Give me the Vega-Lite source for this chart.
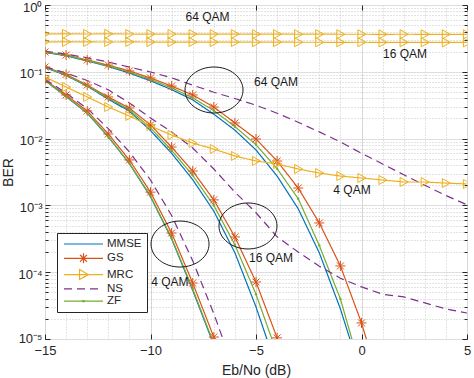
{
  "$schema": "https://vega.github.io/schema/vega-lite/v6.json",
  "width": 422,
  "height": 334,
  "autosize": {"type": "none"},
  "padding": {"left": 45, "top": 5, "right": 7, "bottom": 39},
  "background": "white",
  "config": {
    "view": {"stroke": "#262626", "strokeWidth": 1},
    "font": "Liberation Sans",
    "axis": {"labelFont": "Liberation Sans", "titleFont": "Liberation Sans", "labelColor": "#262626", "titleColor": "#262626", "titleFontWeight": "normal", "tickColor": "#262626"},
    "legend": {
      "orient": "none", "legendX": 12, "legendY": 228,
      "strokeColor": "#262626", "fillColor": "white", "padding": 5,
      "labelFont": "Liberation Sans", "labelFontSize": 11.5, "labelColor": "#262626",
      "symbolSize": 100, "symbolStrokeWidth": 1.2, "rowPadding": 0.3, "labelOffset": 17.5, "symbolOffset": 15.5
    }
  },
  "datasets": {
    "curves": [
      {"method":"GS","qam":"64","snr":-15,"ber":0.198},{"method":"GS","qam":"64","snr":-14,"ber":0.178},{"method":"GS","qam":"64","snr":-13,"ber":0.150},{"method":"GS","qam":"64","snr":-12,"ber":0.126},{"method":"GS","qam":"64","snr":-11,"ber":0.103},{"method":"GS","qam":"64","snr":-10,"ber":0.0808},{"method":"GS","qam":"64","snr":-9,"ber":0.0612},{"method":"GS","qam":"64","snr":-8,"ber":0.0450},{"method":"GS","qam":"64","snr":-7,"ber":0.0297},{"method":"GS","qam":"64","snr":-6,"ber":0.01714},{"method":"GS","qam":"64","snr":-5,"ber":0.00986},{"method":"GS","qam":"64","snr":-4,"ber":0.00462},{"method":"GS","qam":"64","snr":-3,"ber":0.00182},{"method":"GS","qam":"64","snr":-2,"ber":0.000546},{"method":"GS","qam":"64","snr":-1,"ber":0.000124},{"method":"GS","qam":"64","snr":0,"ber":0.0000174},{"method":"GS","qam":"64","snr":1,"ber":0.00000158},
      {"method":"MMSE","qam":"64","snr":-15,"ber":0.195},{"method":"MMSE","qam":"64","snr":-14,"ber":0.174},{"method":"MMSE","qam":"64","snr":-13,"ber":0.145},{"method":"MMSE","qam":"64","snr":-12,"ber":0.120},{"method":"MMSE","qam":"64","snr":-11,"ber":0.0955},{"method":"MMSE","qam":"64","snr":-10,"ber":0.0733},{"method":"MMSE","qam":"64","snr":-9,"ber":0.0541},{"method":"MMSE","qam":"64","snr":-8,"ber":0.0380},{"method":"MMSE","qam":"64","snr":-7,"ber":0.0232},{"method":"MMSE","qam":"64","snr":-6,"ber":0.01337},{"method":"MMSE","qam":"64","snr":-5,"ber":0.00676},{"method":"MMSE","qam":"64","snr":-4,"ber":0.00275},{"method":"MMSE","qam":"64","snr":-3,"ber":0.000891},{"method":"MMSE","qam":"64","snr":-2,"ber":0.000195},{"method":"MMSE","qam":"64","snr":-1,"ber":0.0000282},{"method":"MMSE","qam":"64","snr":0,"ber":0.00000282},
      {"method":"ZF","qam":"64","snr":-15,"ber":0.197},{"method":"ZF","qam":"64","snr":-14,"ber":0.176},{"method":"ZF","qam":"64","snr":-13,"ber":0.148},{"method":"ZF","qam":"64","snr":-12,"ber":0.123},{"method":"ZF","qam":"64","snr":-11,"ber":0.0989},{"method":"ZF","qam":"64","snr":-10,"ber":0.0767},{"method":"ZF","qam":"64","snr":-9,"ber":0.0575},{"method":"ZF","qam":"64","snr":-8,"ber":0.0407},{"method":"ZF","qam":"64","snr":-7,"ber":0.0263},{"method":"ZF","qam":"64","snr":-6,"ber":0.01514},{"method":"ZF","qam":"64","snr":-5,"ber":0.00813},{"method":"ZF","qam":"64","snr":-4,"ber":0.00355},{"method":"ZF","qam":"64","snr":-3,"ber":0.00126},{"method":"ZF","qam":"64","snr":-2,"ber":0.000251},{"method":"ZF","qam":"64","snr":-1,"ber":0.0000398},{"method":"ZF","qam":"64","snr":0,"ber":0.00000316},
      {"method":"NS","qam":"64","snr":-15,"ber":0.204},{"method":"NS","qam":"64","snr":-14,"ber":0.184},{"method":"NS","qam":"64","snr":-13,"ber":0.162},{"method":"NS","qam":"64","snr":-12,"ber":0.140},{"method":"NS","qam":"64","snr":-11,"ber":0.1175},{"method":"NS","qam":"64","snr":-10,"ber":0.0993},{"method":"NS","qam":"64","snr":-9,"ber":0.0813},{"method":"NS","qam":"64","snr":-8,"ber":0.0631},{"method":"NS","qam":"64","snr":-7,"ber":0.0495},{"method":"NS","qam":"64","snr":-6,"ber":0.0398},{"method":"NS","qam":"64","snr":-5,"ber":0.0316},{"method":"NS","qam":"64","snr":-4,"ber":0.0240},{"method":"NS","qam":"64","snr":-3,"ber":0.01758},{"method":"NS","qam":"64","snr":-2,"ber":0.01259},{"method":"NS","qam":"64","snr":-1,"ber":0.00891},{"method":"NS","qam":"64","snr":0,"ber":0.00603},{"method":"NS","qam":"64","snr":1,"ber":0.00417},{"method":"NS","qam":"64","snr":2,"ber":0.00288},{"method":"NS","qam":"64","snr":3,"ber":0.00200},{"method":"NS","qam":"64","snr":4,"ber":0.00141},{"method":"NS","qam":"64","snr":5,"ber":0.00102},
      {"method":"MRC","qam":"64","snr":-15,"ber":0.370},{"method":"MRC","qam":"64","snr":-14,"ber":0.369},{"method":"MRC","qam":"64","snr":-13,"ber":0.368},{"method":"MRC","qam":"64","snr":-12,"ber":0.369},{"method":"MRC","qam":"64","snr":-11,"ber":0.368},{"method":"MRC","qam":"64","snr":-10,"ber":0.367},{"method":"MRC","qam":"64","snr":-9,"ber":0.368},{"method":"MRC","qam":"64","snr":-8,"ber":0.367},{"method":"MRC","qam":"64","snr":-7,"ber":0.366},{"method":"MRC","qam":"64","snr":-6,"ber":0.367},{"method":"MRC","qam":"64","snr":-5,"ber":0.366},{"method":"MRC","qam":"64","snr":-4,"ber":0.366},{"method":"MRC","qam":"64","snr":-3,"ber":0.365},{"method":"MRC","qam":"64","snr":-2,"ber":0.366},{"method":"MRC","qam":"64","snr":-1,"ber":0.365},{"method":"MRC","qam":"64","snr":0,"ber":0.365},{"method":"MRC","qam":"64","snr":1,"ber":0.364},{"method":"MRC","qam":"64","snr":2,"ber":0.365},{"method":"MRC","qam":"64","snr":3,"ber":0.364},{"method":"MRC","qam":"64","snr":4,"ber":0.364},{"method":"MRC","qam":"64","snr":5,"ber":0.364},
      {"method":"GS","qam":"16","snr":-15,"ber":0.118},{"method":"GS","qam":"16","snr":-14,"ber":0.0912},{"method":"GS","qam":"16","snr":-13,"ber":0.0634},{"method":"GS","qam":"16","snr":-12,"ber":0.0420},{"method":"GS","qam":"16","snr":-11,"ber":0.0287},{"method":"GS","qam":"16","snr":-10,"ber":0.0160},{"method":"GS","qam":"16","snr":-9,"ber":0.00748},{"method":"GS","qam":"16","snr":-8,"ber":0.00327},{"method":"GS","qam":"16","snr":-7,"ber":0.00121},{"method":"GS","qam":"16","snr":-6,"ber":0.000337},{"method":"GS","qam":"16","snr":-5,"ber":0.0000713},{"method":"GS","qam":"16","snr":-4,"ber":0.0000104},{"method":"GS","qam":"16","snr":-3,"ber":0.00000126},
      {"method":"MMSE","qam":"16","snr":-15,"ber":0.116},{"method":"MMSE","qam":"16","snr":-14,"ber":0.0881},{"method":"MMSE","qam":"16","snr":-13,"ber":0.0610},{"method":"MMSE","qam":"16","snr":-12,"ber":0.0389},{"method":"MMSE","qam":"16","snr":-11,"ber":0.0257},{"method":"MMSE","qam":"16","snr":-10,"ber":0.01318},{"method":"MMSE","qam":"16","snr":-9,"ber":0.00603},{"method":"MMSE","qam":"16","snr":-8,"ber":0.00243},{"method":"MMSE","qam":"16","snr":-7,"ber":0.000822},{"method":"MMSE","qam":"16","snr":-6,"ber":0.000195},{"method":"MMSE","qam":"16","snr":-5,"ber":0.0000302},{"method":"MMSE","qam":"16","snr":-4,"ber":0.00000355},
      {"method":"ZF","qam":"16","snr":-15,"ber":0.117},{"method":"ZF","qam":"16","snr":-14,"ber":0.0891},{"method":"ZF","qam":"16","snr":-13,"ber":0.0617},{"method":"ZF","qam":"16","snr":-12,"ber":0.0403},{"method":"ZF","qam":"16","snr":-11,"ber":0.0272},{"method":"ZF","qam":"16","snr":-10,"ber":0.01445},{"method":"ZF","qam":"16","snr":-9,"ber":0.00668},{"method":"ZF","qam":"16","snr":-8,"ber":0.00282},{"method":"ZF","qam":"16","snr":-7,"ber":0.00100},{"method":"ZF","qam":"16","snr":-6,"ber":0.000257},{"method":"ZF","qam":"16","snr":-5,"ber":0.0000468},{"method":"ZF","qam":"16","snr":-4,"ber":0.00000603},
      {"method":"NS","qam":"16","snr":-15,"ber":0.120},{"method":"NS","qam":"16","snr":-14,"ber":0.0955},{"method":"NS","qam":"16","snr":-13,"ber":0.0741},{"method":"NS","qam":"16","snr":-12,"ber":0.0537},{"method":"NS","qam":"16","snr":-11,"ber":0.0341},{"method":"NS","qam":"16","snr":-10,"ber":0.0204},{"method":"NS","qam":"16","snr":-9,"ber":0.01259},{"method":"NS","qam":"16","snr":-8,"ber":0.00724},{"method":"NS","qam":"16","snr":-7,"ber":0.00351},{"method":"NS","qam":"16","snr":-6,"ber":0.00158},{"method":"NS","qam":"16","snr":-5,"ber":0.000776},{"method":"NS","qam":"16","snr":-4,"ber":0.000339},{"method":"NS","qam":"16","snr":-3,"ber":0.000200},{"method":"NS","qam":"16","snr":-2,"ber":0.000123},{"method":"NS","qam":"16","snr":-1,"ber":0.0000813},{"method":"NS","qam":"16","snr":0,"ber":0.0000603},{"method":"NS","qam":"16","snr":1,"ber":0.0000468},{"method":"NS","qam":"16","snr":2,"ber":0.0000427},{"method":"NS","qam":"16","snr":3,"ber":0.0000347},{"method":"NS","qam":"16","snr":4,"ber":0.0000282},{"method":"NS","qam":"16","snr":5,"ber":0.0000245},
      {"method":"MRC","qam":"16","snr":-15,"ber":0.281},{"method":"MRC","qam":"16","snr":-14,"ber":0.280},{"method":"MRC","qam":"16","snr":-13,"ber":0.280},{"method":"MRC","qam":"16","snr":-12,"ber":0.279},{"method":"MRC","qam":"16","snr":-11,"ber":0.280},{"method":"MRC","qam":"16","snr":-10,"ber":0.279},{"method":"MRC","qam":"16","snr":-9,"ber":0.278},{"method":"MRC","qam":"16","snr":-8,"ber":0.279},{"method":"MRC","qam":"16","snr":-7,"ber":0.278},{"method":"MRC","qam":"16","snr":-6,"ber":0.278},{"method":"MRC","qam":"16","snr":-5,"ber":0.277},{"method":"MRC","qam":"16","snr":-4,"ber":0.278},{"method":"MRC","qam":"16","snr":-3,"ber":0.277},{"method":"MRC","qam":"16","snr":-2,"ber":0.277},{"method":"MRC","qam":"16","snr":-1,"ber":0.276},{"method":"MRC","qam":"16","snr":0,"ber":0.277},{"method":"MRC","qam":"16","snr":1,"ber":0.276},{"method":"MRC","qam":"16","snr":2,"ber":0.276},{"method":"MRC","qam":"16","snr":3,"ber":0.276},{"method":"MRC","qam":"16","snr":4,"ber":0.275},{"method":"MRC","qam":"16","snr":5,"ber":0.275},
      {"method":"GS","qam":"4","snr":-15,"ber":0.0753},{"method":"GS","qam":"4","snr":-14,"ber":0.0450},{"method":"GS","qam":"4","snr":-13,"ber":0.0259},{"method":"GS","qam":"4","snr":-12,"ber":0.01172},{"method":"GS","qam":"4","snr":-11,"ber":0.00479},{"method":"GS","qam":"4","snr":-10,"ber":0.00158},{"method":"GS","qam":"4","snr":-9,"ber":0.000386},{"method":"GS","qam":"4","snr":-8,"ber":0.0000689},{"method":"GS","qam":"4","snr":-7,"ber":0.0000107},{"method":"GS","qam":"4","snr":-6,"ber":0.00000126},
      {"method":"MMSE","qam":"4","snr":-15,"ber":0.0741},{"method":"MMSE","qam":"4","snr":-14,"ber":0.0425},{"method":"MMSE","qam":"4","snr":-13,"ber":0.0240},{"method":"MMSE","qam":"4","snr":-12,"ber":0.01059},{"method":"MMSE","qam":"4","snr":-11,"ber":0.00422},{"method":"MMSE","qam":"4","snr":-10,"ber":0.00135},{"method":"MMSE","qam":"4","snr":-9,"ber":0.000316},{"method":"MMSE","qam":"4","snr":-8,"ber":0.0000537},{"method":"MMSE","qam":"4","snr":-7,"ber":0.00000813},
      {"method":"ZF","qam":"4","snr":-15,"ber":0.0741},{"method":"ZF","qam":"4","snr":-14,"ber":0.0427},{"method":"ZF","qam":"4","snr":-13,"ber":0.0243},{"method":"ZF","qam":"4","snr":-12,"ber":0.01072},{"method":"ZF","qam":"4","snr":-11,"ber":0.00427},{"method":"ZF","qam":"4","snr":-10,"ber":0.00138},{"method":"ZF","qam":"4","snr":-9,"ber":0.000324},{"method":"ZF","qam":"4","snr":-8,"ber":0.0000562},{"method":"ZF","qam":"4","snr":-7,"ber":0.00000851},
      {"method":"NS","qam":"4","snr":-15,"ber":0.0776},{"method":"NS","qam":"4","snr":-14,"ber":0.0479},{"method":"NS","qam":"4","snr":-13,"ber":0.0282},{"method":"NS","qam":"4","snr":-12,"ber":0.01413},{"method":"NS","qam":"4","snr":-11,"ber":0.00631},{"method":"NS","qam":"4","snr":-10,"ber":0.00240},{"method":"NS","qam":"4","snr":-9,"ber":0.000708},{"method":"NS","qam":"4","snr":-8,"ber":0.000148},{"method":"NS","qam":"4","snr":-7,"ber":0.0000240},{"method":"NS","qam":"4","snr":-6,"ber":0.00000316},
      {"method":"MRC","qam":"4","snr":-15,"ber":0.0835},{"method":"MRC","qam":"4","snr":-14,"ber":0.0592},{"method":"MRC","qam":"4","snr":-13,"ber":0.0420},{"method":"MRC","qam":"4","snr":-12,"ber":0.0297},{"method":"MRC","qam":"4","snr":-11,"ber":0.0218},{"method":"MRC","qam":"4","snr":-10,"ber":0.01545},{"method":"MRC","qam":"4","snr":-9,"ber":0.01132},{"method":"MRC","qam":"4","snr":-8,"ber":0.00859},{"method":"MRC","qam":"4","snr":-7,"ber":0.00698},{"method":"MRC","qam":"4","snr":-6,"ber":0.00550},{"method":"MRC","qam":"4","snr":-5,"ber":0.00462},{"method":"MRC","qam":"4","snr":-4,"ber":0.00417},{"method":"MRC","qam":"4","snr":-3,"ber":0.00351},{"method":"MRC","qam":"4","snr":-2,"ber":0.00305},{"method":"MRC","qam":"4","snr":-1,"ber":0.00275},{"method":"MRC","qam":"4","snr":0,"ber":0.00257},{"method":"MRC","qam":"4","snr":1,"ber":0.00240},{"method":"MRC","qam":"4","snr":2,"ber":0.00224},{"method":"MRC","qam":"4","snr":3,"ber":0.00224},{"method":"MRC","qam":"4","snr":4,"ber":0.00216},{"method":"MRC","qam":"4","snr":5,"ber":0.00209}
    ],
    "labels": [
      {"text":"64 QAM","snr":-7.3,"ber":0.66},
      {"text":"64 QAM","snr":-4.05,"ber":0.0703},
      {"text":"16 QAM","snr":2.06,"ber":0.185},
      {"text":"4 QAM","snr":-0.45,"ber":0.0017},
      {"text":"16 QAM","snr":-4.29,"ber":0.000163},
      {"text":"4 QAM","snr":-9.08,"ber":0.000071}
    ],
    "rings": [
      {"snr":-6.99,"ber":0.0534},
      {"snr":-5.38,"ber":0.000492},
      {"snr":-8.6,"ber":0.000264}
    ]
  },
  "resolve": {"axis": {"x": "independent", "y": "independent"}},
  "layer": [
    {
      "data": {"name": "curves"},
      "mark": {"type": "line", "strokeWidth": 1.2, "clip": true},
      "encoding": {
        "x": {"field": "snr", "type": "quantitative", "scale": {"domain": [-15, 5], "nice": false},
          "axis": {"orient": "bottom", "values": [-15, -10, -5, 0, 5], "grid": true, "gridColor": "#dedede", "domain": false, "tickSize": -5, "labelFlush": false, "labelFontSize": 13, "labelPadding": 10, "title": "Eb/No (dB)", "titleFontSize": 14, "titlePadding": 6}},
        "y": {"field": "ber", "type": "quantitative", "scale": {"type": "log", "domain": [0.00001, 1], "nice": false},
          "axis": {"orient": "left", "values": [0.00001, 0.0001, 0.001, 0.01, 0.1, 1], "grid": true, "gridColor": "#dedede", "domain": false, "tickSize": -5, "labelFontSize": 13, "labelPadding": 8,
            "labelOffset": {"condition": {"test": "datum.value < 0.00005", "value": -1}, "value": 2},
            "labelExpr": "datum.value > 0.5 ? '10⁰' : datum.value > 0.05 ? '10⁻¹' : datum.value > 0.005 ? '10⁻²' : datum.value > 0.0005 ? '10⁻³' : datum.value > 0.00005 ? '10⁻⁴' : '10⁻⁵'",
            "title": "BER", "titleFontSize": 14, "titlePadding": 2}},
        "color": {"field": "method", "type": "nominal",
          "scale": {"domain": ["MMSE", "GS", "MRC", "NS", "ZF"], "range": ["#0072BD", "#D95319", "#EDB120", "#7E2F8E", "#77AC30"]},
          "legend": {"title": null}},
        "strokeDash": {"field": "method", "type": "nominal",
          "scale": {"domain": ["MMSE", "GS", "MRC", "NS", "ZF"], "range": [[1, 0], [1, 0], [1, 0], [8, 5], [1, 0]]},
          "legend": {"title": null}},
        "detail": {"field": "qam"}
      }
    },
    {
      "data": {"name": "curves"},
      "transform": [{"filter": "datum.method == 'GS'"}],
      "mark": {"type": "point", "shape": "M0,-1L0,1M-1,0L1,0M-0.7,-0.7L0.7,0.7M-0.7,0.7L0.7,-0.7", "size": 100, "filled": false, "stroke": "#D95319", "strokeWidth": 1, "opacity": 1, "clip": true},
      "encoding": {
        "x": {"field": "snr", "type": "quantitative",
          "axis": {"orient": "bottom", "values": [-15,-14,-13,-12,-11,-10,-9,-8,-7,-6,-5,-4,-3,-2,-1,0,1,2,3,4,5], "grid": true, "gridColor": "#c9c9c9", "gridDash": [1, 2], "domain": false, "ticks": false, "labels": false, "title": null}},
        "y": {"field": "ber", "type": "quantitative",
          "axis": {"orient": "left", "values": [0.00002,0.00003,0.00004,0.00005,0.00006,0.00007,0.00008,0.00009,0.0002,0.0003,0.0004,0.0005,0.0006,0.0007,0.0008,0.0009,0.002,0.003,0.004,0.005,0.006,0.007,0.008,0.009,0.02,0.03,0.04,0.05,0.06,0.07,0.08,0.09,0.2,0.3,0.4,0.5,0.6,0.7,0.8,0.9], "grid": true, "gridColor": "#c9c9c9", "gridDash": [1, 2], "domain": false, "ticks": true, "tickSize": -3, "labels": false, "title": null}}
      }
    },
    {
      "data": {"name": "curves"},
      "transform": [{"filter": "datum.method == 'MRC'"}],
      "mark": {"type": "point", "shape": "M-0.8,-1L1,0L-0.8,1Z", "size": 81, "filled": false, "stroke": "#EDB120", "strokeWidth": 1, "opacity": 1, "clip": true},
      "encoding": {
        "x": {"field": "snr", "type": "quantitative",
          "axis": {"orient": "top", "values": [-15, -10, -5, 0, 5], "grid": false, "domain": false, "tickSize": -5, "labels": false, "title": null}},
        "y": {"field": "ber", "type": "quantitative",
          "axis": {"orient": "right", "values": [0.00001, 0.0001, 0.001, 0.01, 0.1, 1], "grid": false, "domain": false, "tickSize": -5, "labels": false, "title": null}}
      }
    },
    {
      "data": {"name": "curves"},
      "transform": [{"filter": "datum.method == 'ZF'"}],
      "mark": {"type": "point", "shape": "circle", "size": 6, "filled": true, "fill": "#77AC30", "opacity": 1, "clip": true},
      "encoding": {
        "x": {"field": "snr", "type": "quantitative", "axis": null},
        "y": {"field": "ber", "type": "quantitative",
          "axis": {"orient": "right", "values": [0.00002,0.00003,0.00004,0.00005,0.00006,0.00007,0.00008,0.00009,0.0002,0.0003,0.0004,0.0005,0.0006,0.0007,0.0008,0.0009,0.002,0.003,0.004,0.005,0.006,0.007,0.008,0.009,0.02,0.03,0.04,0.05,0.06,0.07,0.08,0.09,0.2,0.3,0.4,0.5,0.6,0.7,0.8,0.9], "grid": false, "domain": false, "tickSize": -3, "labels": false, "title": null}}
      }
    },
    {
      "data": {"name": "curves"},
      "transform": [{"filter": "datum.snr > 100"}],
      "mark": {"type": "point", "filled": false, "strokeWidth": 1.2, "opacity": 1},
      "encoding": {
        "x": {"field": "snr", "type": "quantitative", "axis": null},
        "y": {"field": "ber", "type": "quantitative", "axis": null},
        "color": {"field": "method", "type": "nominal", "legend": {"title": null}},
        "strokeDash": {"field": "method", "type": "nominal", "legend": {"title": null}},
        "shape": {"field": "method", "type": "nominal",
          "scale": {"domain": ["MMSE", "GS", "MRC", "NS", "ZF"], "range": [
            "M-3.9,0L3.9,0",
            "M-3.9,0L3.9,0M0,-1L0,1M-1,0L1,0M-0.7,-0.7L0.7,0.7M-0.7,0.7L0.7,-0.7",
            "M-3.9,0L3.9,0M-0.8,-1L1,0L-0.8,1Z",
            "M-3.9,0L3.9,0",
            "M-3.9,0L3.9,0M-0.2,-0.2L0.2,0.2M-0.2,0.2L0.2,-0.2"
          ]},
          "legend": {"title": null}}
      }
    },
    {
      "data": {"name": "rings"},
      "mark": {"type": "point", "shape": "M-1,0C-1,-0.438,-0.552,-0.793,0,-0.793C0.552,-0.793,1,-0.438,1,0C1,0.438,0.552,0.793,0,0.793C-0.552,0.793,-1,0.438,-1,0Z", "size": 3364, "filled": false, "stroke": "#1a1a1a", "strokeWidth": 1, "opacity": 1},
      "encoding": {
        "x": {"field": "snr", "type": "quantitative", "axis": null},
        "y": {"field": "ber", "type": "quantitative", "axis": null}
      }
    },
    {
      "data": {"name": "labels"},
      "mark": {"type": "text", "font": "Liberation Sans", "fontSize": 12, "color": "#1a1a1a", "align": "center", "baseline": "middle"},
      "encoding": {
        "x": {"field": "snr", "type": "quantitative", "axis": null},
        "y": {"field": "ber", "type": "quantitative", "axis": null},
        "text": {"field": "text"}
      }
    }
  ]
}
